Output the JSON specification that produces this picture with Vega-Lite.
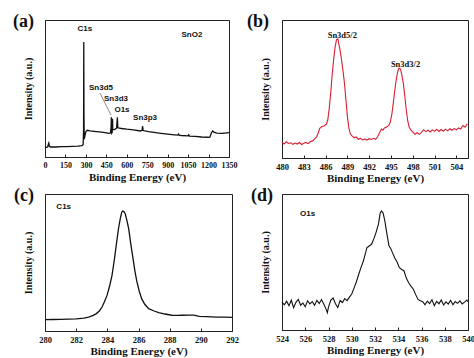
{
  "$schema": "https://vega.github.io/schema/vega-lite/v6.json",
  "padding": {"left": 12, "top": 12, "right": 4, "bottom": 2},
  "background": "white",
  "config": {
    "view": {"stroke": "#222", "strokeWidth": 1},
    "axis": {
      "grid": false,
      "labelFont": "Liberation Serif", "labelFontWeight": "bold", "labelFontSize": 8.5, "labelColor": "#111",
      "titleFont": "Liberation Serif", "titleFontWeight": "bold", "titleFontSize": 11, "titleColor": "#111",
      "domainColor": "#222", "tickColor": "#222", "labelOverlap": false, "labelFlush": false, "labelBound": false
    },
    "title": {"font": "Liberation Serif", "fontWeight": "bold", "fontSize": 18, "color": "#111", "anchor": "start", "frame": "group", "baseline": "top", "offset": 0}
  },
  "datasets": {
    "a": [
      {"e":0,"v":7.0},{"e":10,"v":7.1},{"e":20,"v":7.4},{"e":25,"v":9.5},{"e":28,"v":10.2},{"e":32,"v":8.0},{"e":40,"v":7.3},{"e":80,"v":7.3},{"e":120,"v":7.6},{"e":160,"v":7.6},{"e":200,"v":7.8},{"e":240,"v":8.0},{"e":270,"v":8.3},{"e":280,"v":9},{"e":283,"v":20},{"e":284.5,"v":84},{"e":286,"v":30},{"e":288,"v":13},{"e":292,"v":15},{"e":300,"v":18.5},{"e":310,"v":19.5},{"e":330,"v":19.0},{"e":360,"v":18.7},{"e":400,"v":18.3},{"e":440,"v":17.8},{"e":470,"v":17.3},{"e":480,"v":17.5},{"e":485,"v":22},{"e":487,"v":29},{"e":488.5,"v":21},{"e":490,"v":17.5},{"e":493,"v":18},{"e":495.5,"v":28},{"e":497,"v":20},{"e":510,"v":20},{"e":525,"v":21},{"e":531,"v":29},{"e":534,"v":21.5},{"e":545,"v":21},{"e":560,"v":20.8},{"e":600,"v":20.3},{"e":650,"v":19.8},{"e":700,"v":19},{"e":712,"v":19.5},{"e":716,"v":22.5},{"e":720,"v":19.3},{"e":760,"v":18.6},{"e":800,"v":18.0},{"e":850,"v":17.3},{"e":900,"v":16.7},{"e":950,"v":16.2},{"e":975,"v":16.0},{"e":980,"v":16.8},{"e":985,"v":16},{"e":1000,"v":15.7},{"e":1050,"v":15.4},{"e":1055,"v":16.2},{"e":1060,"v":15.3},{"e":1100,"v":15},{"e":1150,"v":14.6},{"e":1200,"v":14.4},{"e":1210,"v":14.5},{"e":1220,"v":17.5},{"e":1230,"v":19},{"e":1240,"v":18.2},{"e":1260,"v":17.5},{"e":1300,"v":17.3},{"e":1350,"v":17.8}
    ],
    "aLabels": [
      {"e":293,"v":93.4,"t":"C1s"},{"e":1078,"v":89,"t":"SnO2"},{"e":411,"v":50.4,"t":"Sn3d5"},{"e":521,"v":42.3,"t":"Sn3d3"},{"e":565,"v":34.3,"t":"O1s"},{"e":734,"v":28.5,"t":"Sn3p3"}
    ],
    "aLead": [{"e":403,"e2":484,"v":46.7,"v2":30.7}],
    "b": [
      {"e":480.0,"v":11.4},{"e":480.3,"v":10.2},{"e":480.6,"v":11.8},{"e":480.9,"v":10.5},{"e":481.2,"v":11.0},{"e":481.5,"v":9.9},{"e":481.8,"v":10.8},{"e":482.1,"v":10.1},{"e":482.4,"v":11.2},{"e":482.7,"v":9.8},{"e":483.0,"v":10.6},{"e":483.3,"v":11.3},{"e":483.6,"v":10.4},{"e":483.9,"v":11.9},{"e":484.2,"v":12.4},{"e":484.5,"v":13.8},{"e":484.8,"v":15.6},{"e":485.0,"v":18.5},{"e":485.2,"v":21.5},{"e":485.5,"v":22.8},{"e":485.8,"v":23.2},{"e":486.1,"v":24.5},{"e":486.3,"v":27.5},{"e":486.5,"v":36},{"e":486.7,"v":47},{"e":486.9,"v":60},{"e":487.1,"v":71},{"e":487.3,"v":80},{"e":487.5,"v":85.7},{"e":487.7,"v":86.2},{"e":487.85,"v":82},{"e":488.0,"v":78},{"e":488.2,"v":71},{"e":488.4,"v":63},{"e":488.6,"v":54},{"e":488.8,"v":42},{"e":489.0,"v":30},{"e":489.2,"v":22},{"e":489.4,"v":17.5},{"e":489.6,"v":16.2},{"e":489.9,"v":14.8},{"e":490.2,"v":15.3},{"e":490.5,"v":13.6},{"e":490.8,"v":14.2},{"e":491.1,"v":13.1},{"e":491.4,"v":13.8},{"e":491.7,"v":12.9},{"e":492.0,"v":14.0},{"e":492.3,"v":13.4},{"e":492.6,"v":14.3},{"e":492.9,"v":13.6},{"e":493.2,"v":15.8},{"e":493.5,"v":19.2},{"e":493.7,"v":21.0},{"e":493.9,"v":20.2},{"e":494.1,"v":21.8},{"e":494.4,"v":22.5},{"e":494.7,"v":23.6},{"e":494.9,"v":26},{"e":495.1,"v":31},{"e":495.3,"v":39},{"e":495.5,"v":48},{"e":495.7,"v":56},{"e":495.9,"v":62},{"e":496.1,"v":65.2},{"e":496.3,"v":64.5},{"e":496.5,"v":60},{"e":496.7,"v":54},{"e":496.9,"v":45},{"e":497.1,"v":35},{"e":497.3,"v":27},{"e":497.5,"v":22.5},{"e":497.7,"v":20.5},{"e":498.0,"v":19.0},{"e":498.3,"v":17.2},{"e":498.6,"v":18.3},{"e":498.9,"v":17.1},{"e":499.2,"v":18.6},{"e":499.5,"v":20.5},{"e":499.8,"v":19.1},{"e":500.1,"v":20.2},{"e":500.4,"v":18.9},{"e":500.7,"v":20.4},{"e":501.0,"v":19.3},{"e":501.3,"v":20.8},{"e":501.6,"v":19.2},{"e":501.9,"v":20.6},{"e":502.2,"v":19.4},{"e":502.5,"v":20.9},{"e":502.8,"v":19.7},{"e":503.1,"v":21.2},{"e":503.4,"v":20.1},{"e":503.7,"v":21.3},{"e":504.0,"v":20.4},{"e":504.3,"v":21.8},{"e":504.6,"v":21.0},{"e":504.9,"v":23.5},{"e":505.2,"v":22.3},{"e":505.5,"v":24.8}
    ],
    "bLabels": [{"e":488.3,"v":89.4,"t":"Sn3d5/2"},{"e":497.0,"v":68.3,"t":"Sn3d3/2"}],
    "c": [
      {"e":280,"v":8.3},{"e":280.5,"v":8.4},{"e":281,"v":8.5},{"e":281.5,"v":8.7},{"e":282,"v":8.9},{"e":282.5,"v":9.4},{"e":282.8,"v":10.2},{"e":283.1,"v":11.4},{"e":283.3,"v":12.7},{"e":283.5,"v":14.8},{"e":283.66,"v":17.5},{"e":283.8,"v":21},{"e":283.98,"v":26},{"e":284.15,"v":33},{"e":284.3,"v":40.6},{"e":284.45,"v":52},{"e":284.6,"v":65},{"e":284.72,"v":75},{"e":284.83,"v":82},{"e":284.92,"v":86.5},{"e":284.98,"v":87.6},{"e":285.06,"v":87.2},{"e":285.15,"v":85.6},{"e":285.25,"v":81},{"e":285.37,"v":74.7},{"e":285.5,"v":64},{"e":285.65,"v":52.8},{"e":285.78,"v":43},{"e":285.9,"v":35.8},{"e":286.05,"v":29},{"e":286.2,"v":23.6},{"e":286.4,"v":19.5},{"e":286.65,"v":16.3},{"e":287,"v":14.6},{"e":287.3,"v":13.4},{"e":287.7,"v":12.4},{"e":288.15,"v":11.5},{"e":288.5,"v":11.4},{"e":288.8,"v":11.5},{"e":289.2,"v":11.6},{"e":289.55,"v":11.6},{"e":289.9,"v":10.7},{"e":290.4,"v":10.5},{"e":291,"v":10.2},{"e":291.5,"v":10.1},{"e":292,"v":10}
    ],
    "cLabels": [{"e":281.2,"v":90.5,"t":"C1s"}],
    "d": [
      {"e":524.0,"v":20.5},{"e":524.2,"v":18.5},{"e":524.4,"v":21.2},{"e":524.6,"v":17.8},{"e":524.8,"v":21.9},{"e":525.0,"v":16.4},{"e":525.2,"v":20.3},{"e":525.4,"v":22.6},{"e":525.6,"v":18.2},{"e":525.8,"v":19.8},{"e":526.0,"v":17.0},{"e":526.2,"v":21.5},{"e":526.4,"v":19.2},{"e":526.6,"v":20.9},{"e":526.8,"v":18.1},{"e":527.0,"v":21.8},{"e":527.2,"v":19.5},{"e":527.4,"v":22.4},{"e":527.6,"v":19.0},{"e":527.8,"v":15.2},{"e":527.9,"v":12.7},{"e":528.0,"v":16.8},{"e":528.2,"v":22.0},{"e":528.4,"v":23.5},{"e":528.6,"v":19.3},{"e":528.8,"v":16.5},{"e":529.0,"v":21.7},{"e":529.2,"v":20.2},{"e":529.4,"v":23.1},{"e":529.6,"v":21.6},{"e":529.8,"v":24.2},{"e":530.0,"v":26.5},{"e":530.2,"v":31},{"e":530.4,"v":35.5},{"e":530.6,"v":41},{"e":530.8,"v":46},{"e":531.0,"v":50.7},{"e":531.2,"v":57},{"e":531.3,"v":60.5},{"e":531.5,"v":61.8},{"e":531.7,"v":63},{"e":531.9,"v":67},{"e":532.1,"v":72},{"e":532.3,"v":78},{"e":532.45,"v":86},{"e":532.55,"v":87.5},{"e":532.7,"v":86},{"e":532.85,"v":80},{"e":533.0,"v":72},{"e":533.1,"v":67},{"e":533.2,"v":62},{"e":533.35,"v":60},{"e":533.5,"v":56.9},{"e":533.7,"v":53},{"e":533.9,"v":50},{"e":534.1,"v":45.8},{"e":534.3,"v":44.5},{"e":534.5,"v":43.4},{"e":534.7,"v":38},{"e":534.9,"v":34.8},{"e":535.1,"v":32},{"e":535.3,"v":30},{"e":535.5,"v":26},{"e":535.7,"v":22.5},{"e":535.9,"v":21.5},{"e":536.1,"v":20.8},{"e":536.3,"v":18.6},{"e":536.5,"v":21.2},{"e":536.7,"v":19.4},{"e":536.9,"v":22.3},{"e":537.1,"v":17.9},{"e":537.3,"v":21.0},{"e":537.5,"v":19.3},{"e":537.7,"v":22.1},{"e":537.9,"v":18.4},{"e":538.1,"v":20.7},{"e":538.3,"v":19.0},{"e":538.5,"v":21.8},{"e":538.7,"v":18.6},{"e":538.9,"v":20.9},{"e":539.1,"v":19.6},{"e":539.3,"v":21.4},{"e":539.5,"v":19.2},{"e":539.7,"v":20.5},{"e":539.9,"v":22.0},{"e":540.0,"v":20.8}
    ],
    "dLabels": [{"e":526.2,"v":85,"t":"O1s"}]
  },
  "concat": [
    {
      "title": {"text": "(a)", "dx": -32, "dy": 15, "font": "Liberation Serif", "fontWeight": "bold"},
      "width": 184, "height": 137,
      "layer": [
        {"data": {"name": "a"}, "mark": {"type": "line", "color": "#111", "strokeWidth": 1.3},
         "encoding": {
           "x": {"field": "e", "type": "quantitative", "scale": {"domain": [0, 1350], "nice": false}, "axis": {"values": [0,150,300,450,600,750,900,1050,1200,1350], "tickCount": 30, "format": "d", "labelOverlap": false, "labelFlush": false, "labelFontSize": 8, "title": "Binding Energy (eV)", "tickSize": -3, "labelPadding": 7, "titlePadding": 2, "labelFont": "Liberation Serif", "titleFont": "Liberation Serif"}},
           "y": {"field": "v", "type": "quantitative", "scale": {"domain": [0, 100]}, "axis": {"title": "Intensity (a.u.)", "labels": false, "ticks": false, "titleFontSize": 10, "titlePadding": 12, "titleFont": "Liberation Serif"}}
         }},
        {"data": {"name": "aLead"}, "mark": {"type": "rule", "color": "#555", "strokeWidth": 0.7},
         "encoding": {"x": {"field": "e", "type": "quantitative"}, "x2": {"field": "e2"}, "y": {"field": "v", "type": "quantitative"}, "y2": {"field": "v2"}}},
        {"data": {"name": "aLabels"}, "mark": {"type": "text", "font": "Liberation Sans", "fontWeight": "bold", "fontSize": 8, "color": "#111"},
         "encoding": {"x": {"field": "e", "type": "quantitative"}, "y": {"field": "v", "type": "quantitative"}, "text": {"field": "t"}}}
      ]
    },
    {
      "title": {"text": "(b)", "dx": -35, "dy": 15, "font": "Liberation Serif", "fontWeight": "bold"},
      "width": 186, "height": 138,
      "layer": [
        {"data": {"name": "b"}, "mark": {"type": "line", "color": "#d81e32", "strokeWidth": 1.1},
         "encoding": {
           "x": {"field": "e", "type": "quantitative", "scale": {"domain": [480, 505.6], "nice": false}, "axis": {"values": [480,483,486,489,492,495,498,501,504], "tickCount": 30, "format": "d", "labelOverlap": false, "labelFlush": false, "title": "Binding Energy (eV)", "tickSize": -3, "labelPadding": 7, "titlePadding": 2, "labelFont": "Liberation Serif", "titleFont": "Liberation Serif"}},
           "y": {"field": "v", "type": "quantitative", "scale": {"domain": [0, 100]}, "axis": {"title": "Intensity (a.u.)", "labels": false, "ticks": false, "titleFontSize": 10, "titlePadding": 12, "titleFont": "Liberation Serif"}}
         }},
        {"data": {"name": "bLabels"}, "mark": {"type": "text", "font": "Liberation Serif", "fontWeight": "bold", "fontSize": 8.5, "color": "#111"},
         "encoding": {"x": {"field": "e", "type": "quantitative"}, "y": {"field": "v", "type": "quantitative"}, "text": {"field": "t"}}}
      ]
    },
    {
      "title": {"text": "(c)", "dx": -31, "dy": 15, "font": "Liberation Serif", "fontWeight": "bold"},
      "width": 187, "height": 137,
      "layer": [
        {"data": {"name": "c"}, "mark": {"type": "line", "color": "#111", "strokeWidth": 1.3},
         "encoding": {
           "x": {"field": "e", "type": "quantitative", "scale": {"domain": [280, 292], "nice": false}, "axis": {"values": [280,282,284,286,288,290,292], "tickCount": 30, "format": "d", "labelOverlap": false, "labelFlush": false, "title": "Binding Energy (eV)", "tickSize": -3, "labelPadding": 7, "titlePadding": 2, "labelFont": "Liberation Serif", "titleFont": "Liberation Serif"}},
           "y": {"field": "v", "type": "quantitative", "scale": {"domain": [0, 100]}, "axis": {"title": "Intensity (a.u.)", "labels": false, "ticks": false, "titleFontSize": 10, "titlePadding": 12, "titleFont": "Liberation Serif"}}
         }},
        {"data": {"name": "cLabels"}, "mark": {"type": "text", "font": "Liberation Sans", "fontWeight": "bold", "fontSize": 8, "color": "#111"},
         "encoding": {"x": {"field": "e", "type": "quantitative"}, "y": {"field": "v", "type": "quantitative"}, "text": {"field": "t"}}}
      ]
    },
    {
      "title": {"text": "(d)", "dx": -31, "dy": 15, "font": "Liberation Serif", "fontWeight": "bold"},
      "width": 186, "height": 136,
      "layer": [
        {"data": {"name": "d"}, "mark": {"type": "line", "color": "#111", "strokeWidth": 1.1},
         "encoding": {
           "x": {"field": "e", "type": "quantitative", "scale": {"domain": [524, 540], "nice": false}, "axis": {"values": [524,526,528,530,532,534,536,538,540], "tickCount": 30, "format": "d", "labelOverlap": false, "labelFlush": false, "title": "Binding Energy (eV)", "tickSize": -3, "labelPadding": 7, "titlePadding": 2, "labelFont": "Liberation Serif", "titleFont": "Liberation Serif"}},
           "y": {"field": "v", "type": "quantitative", "scale": {"domain": [0, 100]}, "axis": {"title": "Intensity (a.u.)", "labels": false, "ticks": false, "titleFontSize": 10, "titlePadding": 12, "titleFont": "Liberation Serif"}}
         }},
        {"data": {"name": "dLabels"}, "mark": {"type": "text", "font": "Liberation Sans", "fontWeight": "bold", "fontSize": 8, "color": "#111"},
         "encoding": {"x": {"field": "e", "type": "quantitative"}, "y": {"field": "v", "type": "quantitative"}, "text": {"field": "t"}}}
      ]
    }
  ],
  "columns": 2,
  "bounds": "flush",
  "spacing": {"row": 36, "column": 50}
}
